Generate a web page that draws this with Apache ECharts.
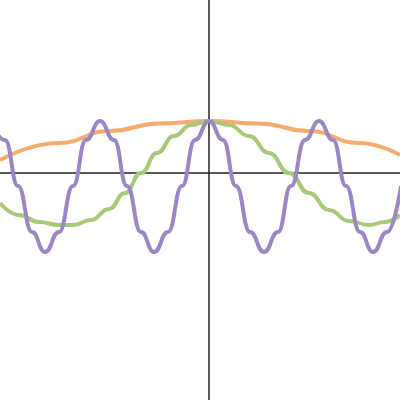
<!DOCTYPE html>
<html><head><meta charset="utf-8">
<script src="https://cdn.jsdelivr.net/npm/echarts@6/dist/echarts.min.js"></script>
<style>html,body{margin:0;padding:0;background:#fff}#c{width:400px;height:400px}</style>
</head><body><div id="c"></div>
<script>
const orange = [[-209,13],[-150,30],[-100,42],[-50,49.5],[0,52],[50,49.5],[100,42],[150,30],[191,18]];
const green = [[-209,-30],[-190,-42],[-170,-49],[-150,-52],[-136,-52],[-118,-47],[-100,-36],[-84,-20],[-68,0],[-52,20],[-35,37],[-18,48],[0,52],[20,48],[40,37],[60,20],[80,0],[100,-20],[120,-37],[140,-48],[160,-52],[176,-49],[191,-42]];
const purple = [[-218,52],[-204,33],[-191,-13],[-177,-59],[-164,-79],[-150,-59],[-136,-13],[-123,33],[-109,52],[-95,33],[-82,-13],[-68,-59],[-55,-79],[-41,-59],[-27,-13],[-14,33],[0,52],[14,33],[27,-13],[41,-59],[55,-79],[69,-59],[82,-13],[96,33],[110,52],[124,33],[137,-13],[151,-59],[164,-79],[178,-59],[192,-13]];
const chart = echarts.init(document.getElementById('c'));
const ax = {type:'value',axisLine:{onZero:true,lineStyle:{color:'#222',width:1.5}},axisTick:{show:false},axisLabel:{show:false},splitLine:{show:false}};
const mk = (d,c)=>({type:'line',data:d,smooth:true,smoothMonotone:'x',showSymbol:false,lineStyle:{color:c,width:4},animation:false});
chart.setOption({
  grid:{left:0,right:0,top:0,bottom:0},
  xAxis:Object.assign({min:-209,max:191},ax),
  yAxis:Object.assign({min:-227,max:173},ax),
  series:[mk(orange,'#f5ac6c'),mk(green,'#a9c97a'),mk(purple,'#9b86c6')]
});
</script></body></html>
